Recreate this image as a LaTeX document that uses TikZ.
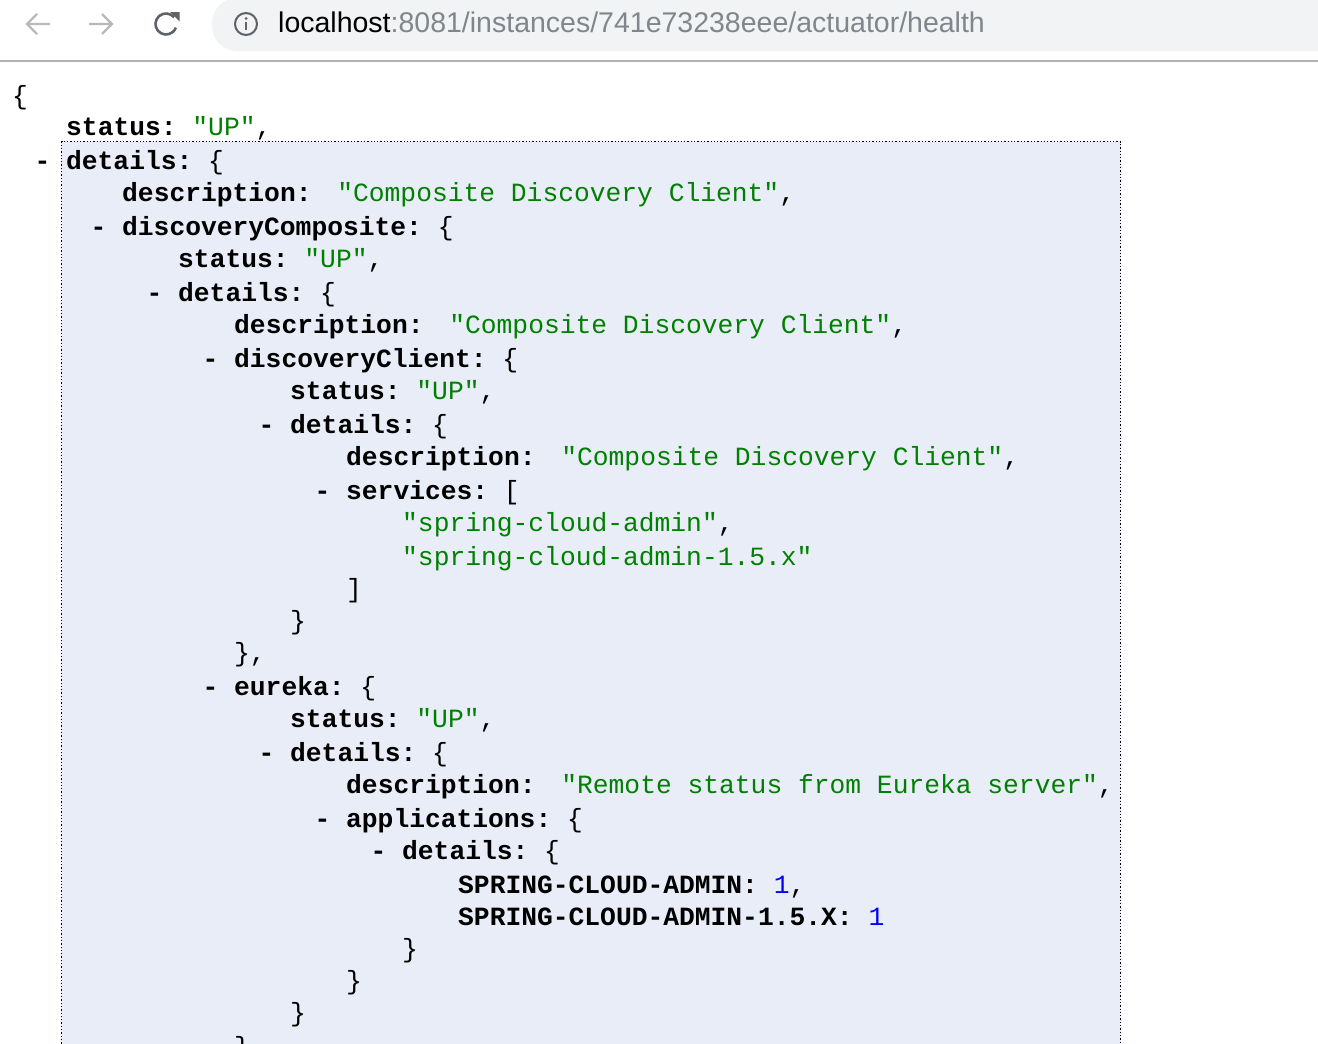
\documentclass[tikz,border=0pt]{standalone}
\usepackage{fontspec}
\setmainfont{Liberation Sans}
\setmonofont{Liberation Mono}
\definecolor{jgreen}{HTML}{008000}
\definecolor{jblue}{HTML}{0000FF}
\definecolor{boxfill}{HTML}{E9EDF8}
\definecolor{pill}{HTML}{F1F3F4}
\definecolor{urlgray}{HTML}{80868B}
\definecolor{icongray}{HTML}{5F6368}
\newcommand{\K}[1]{\textbf{#1}}
\newcommand{\V}[1]{\textcolor{jgreen}{#1}}
\newcommand{\N}[1]{\textcolor{jblue}{#1}}
\tikzset{
  ln/.style={anchor=mid west,inner sep=0pt,font=\ttfamily\fontsize{26.3}{28}\selectfont},
  urltxt/.style={anchor=mid west,inner sep=0pt,font=\fontsize{28.5}{28}\selectfont},
}
\begin{document}
\begin{tikzpicture}[x=1pt,y=-1pt]
\useasboundingbox (0,0) rectangle (1318,1044);
\clip (0,0) rectangle (1318,1044);
% browser bar
\fill[pill,rounded corners=25pt] (212,-2) rectangle (1370,51);
\draw[gray!60,line width=1.2pt] (0,61) -- (1318,61);
\draw[gray!55,line width=2.2pt] (50,24) -- (27,24) (37,14) -- (27,24) -- (37,34);
\draw[gray!55,line width=2.2pt] (89,24) -- (112,24) (102,14) -- (112,24) -- (102,34);
\begin{scope}[shift={(166,24)},y=1pt]
\draw[icongray,line width=2.6pt] (40:10.5) arc[start angle=40,end angle=340,radius=10.5];
\fill[icongray] (4,12) -- (13.5,12) -- (13.5,2.5) -- cycle;
\end{scope}
\draw[icongray,line width=2pt] (246,24) circle (11);
\fill[icongray] (246,18.5) circle (1.5);
\fill[icongray] (244.8,22) rectangle (247.2,30);
\node[urltxt] (url) at (278,30) {localhost\textcolor{urlgray}{:8081/instances/741e73238eee/actuator/health}};
% highlighted box
\draw[boxfill,fill=boxfill] (61.5,141.5) rectangle (1120.5,1060);
\draw[black,line width=1.3pt,dotted] (61.5,1060) -- (61.5,141.5) -- (1120.5,141.5) -- (1120.5,1060);
% JSON lines
\begin{scope}[yshift=-7pt]
\node[ln] (l0) at (12,95) {\{};
\node[ln] (l1) at (66,126) {\K{status:} \V{"UP"},};
\node[ln] (l2) at (34.4,160) {\K{- details:} \{};
\node[ln] (l3) at (122,192) {\K{description:}\hspace{10pt} \V{"Composite Discovery Client"},};
\node[ln] (l4) at (90.4,226) {\K{- discoveryComposite:} \{};
\node[ln] (l5) at (178,258) {\K{status:} \V{"UP"},};
\node[ln] (l6) at (146.4,292) {\K{- details:} \{};
\node[ln] (l7) at (234,324) {\K{description:}\hspace{10pt} \V{"Composite Discovery Client"},};
\node[ln] (l8) at (202.4,358) {\K{- discoveryClient:} \{};
\node[ln] (l9) at (290,390) {\K{status:} \V{"UP"},};
\node[ln] (l10) at (258.4,424) {\K{- details:} \{};
\node[ln] (l11) at (346,456) {\K{description:}\hspace{10pt} \V{"Composite Discovery Client"},};
\node[ln] (l12) at (314.4,490) {\K{- services:} [};
\node[ln] (l13) at (402,522) {\V{"spring-cloud-admin"},};
\node[ln] (l14) at (402,556) {\V{"spring-cloud-admin-1.5.x"}};
\node[ln] (l15) at (346,588) {]};
\node[ln] (l16) at (290,620) {\}};
\node[ln] (l17) at (234,652) {\},};
\node[ln] (l18) at (202.4,686) {\K{- eureka:} \{};
\node[ln] (l19) at (290,718) {\K{status:} \V{"UP"},};
\node[ln] (l20) at (258.4,752) {\K{- details:} \{};
\node[ln] (l21) at (346,784) {\K{description:}\hspace{10pt} \V{"Remote status from Eureka server"},};
\node[ln] (l22) at (314.4,818) {\K{- applications:} \{};
\node[ln] (l23) at (370.4,850) {\K{- details:} \{};
\node[ln] (l24) at (458,884) {\K{SPRING-CLOUD-ADMIN:} \N{1},};
\node[ln] (l25) at (458,916) {\K{SPRING-CLOUD-ADMIN-1.5.X:} \N{1}};
\node[ln] (l26) at (402,948) {\}};
\node[ln] (l27) at (346,980) {\}};
\node[ln] (l28) at (290,1012) {\}};
\node[ln] (l29) at (234,1046) {\}};
\end{scope}
\end{tikzpicture}
\end{document}
